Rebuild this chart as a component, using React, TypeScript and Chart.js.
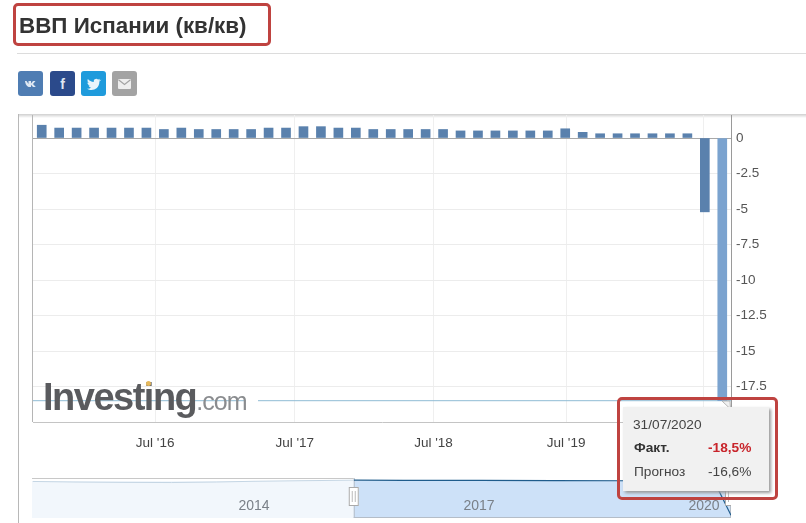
import React, { useEffect, useRef } from "react";
import { Chart, registerables } from "chart.js";

Chart.register(...registerables);

const FONT = '"Liberation Sans", Arial, sans-serif';

const TITLE = "ВВП Испании (кв/кв)";
const barValues = [
  0.9, 0.7, 0.7, 0.7, 0.7, 0.7, 0.7, 0.6, 0.7, 0.6, 0.6, 0.6, 0.6, 0.7, 0.7,
  0.8, 0.8, 0.7, 0.7, 0.6, 0.6, 0.6, 0.6, 0.6, 0.5, 0.5, 0.5, 0.5, 0.5, 0.5,
  0.65, 0.4, 0.3, 0.3, 0.3, 0.3, 0.3, 0.3, -5.2, -18.5,
];
const barPositions = barValues.map((_, i) => i);
const xTickPositions = [6.5, 14.5, 22.45, 30.05, 37.95];
const xTickLabels = ["Jul '16", "Jul '17", "Jul '18", "Jul '19", "Jul '20"];
const yTickValues = [0, -2.5, -5, -7.5, -10, -12.5, -15, -17.5];
const currentValue = -18.5;

const navYears = [2011.05, 2011.6, 2012.2, 2012.9, 2013.5, 2014, 2014.6, 2015.33, 2016, 2017, 2018, 2019, 2019.9, 2020.1, 2020.2, 2020.36];
const navValues = [0.1, -0.2, -0.4, -0.5, -0.2, 0.2, 0.5, 0.8, 0.7, 0.7, 0.6, 0.5, 0.3, 0.2, -5.2, -18.5];
const navTicks = [2014, 2017, 2020];
const navSelectionStart = 2015.33;

const tooltipDate = "31/07/2020";
const tooltipRows = [
  { label: "Факт.", value: "-18,5%" },
  { label: "Прогноз", value: "-16,6%" },
];

const abs = (l: number, t: number, w: number, h: number): React.CSSProperties => ({
  position: "absolute",
  left: l,
  top: t,
  width: w,
  height: h,
  boxSizing: "border-box",
});

export default function App() {
  const mainRef = useRef<HTMLCanvasElement>(null);
  const navRef = useRef<HTMLCanvasElement>(null);

  useEffect(() => {
    const framePlugin = {
      id: "frame",
      beforeDatasetsDraw(chart: any) {
        const { ctx, chartArea: a, scales } = chart;
        const y = scales.y.getPixelForValue(currentValue);
        ctx.save();
        ctx.strokeStyle = "#8fbcd4";
        ctx.lineWidth = 1;
        ctx.beginPath();
        ctx.moveTo(a.left, y);
        ctx.lineTo(a.right, y);
        ctx.stroke();
        ctx.strokeStyle = "#b5b5b5";
        ctx.beginPath();
        ctx.moveTo(a.left - 0.5, a.top);
        ctx.lineTo(a.left - 0.5, a.bottom);
        ctx.stroke();
        ctx.restore();
      },
    };

    const main = new Chart(mainRef.current!, {
      type: "bar",
      data: {
        datasets: [
          {
            data: barPositions.map((x, i) => ({ x, y: barValues[i] })),
            backgroundColor: barValues.map((_, i) =>
              i === barValues.length - 1 ? "#7ba3cf" : "#5a81ad"
            ),
            barThickness: 9,
          },
        ],
      },
      options: {
        animation: false,
        responsive: false,
        layout: { padding: { left: 33, top: 115, right: 0, bottom: 0 } },
        plugins: { legend: { display: false }, tooltip: { enabled: false } },
        scales: {
          x: {
            type: "linear",
            offset: false,
            min: -0.5,
            max: 39.5,
            afterBuildTicks: (s: any) => {
              s.ticks = xTickPositions.map((value) => ({ value }));
            },
            afterFit: (s: any) => {
              s.height = 101;
            },
            grid: { offset: false, color: "#efefef", drawTicks: false },
            border: { color: "#c4c4c4" },
            ticks: {
              autoSkip: false,
              maxRotation: 0,
              padding: 13,
              color: "#444",
              font: { family: FONT, size: 13.5 },
              callback: (_v: any, i: number) => xTickLabels[i],
            },
          },
          y: {
            position: "right",
            min: -20,
            max: 1.62,
            afterBuildTicks: (s: any) => {
              s.ticks = yTickValues.map((value) => ({ value }));
            },
            afterFit: (s: any) => {
              s.width = 75;
            },
            grid: {
              drawTicks: false,
              color: (c: any) => (c.tick && c.tick.value === 0 ? "#a8a8a8" : "#ececec"),
            },
            border: { color: "#9a9a9a" },
            ticks: {
              autoSkip: false,
              padding: 5,
              color: "#555",
              font: { family: FONT, size: 13.5 },
              callback: (v: any) => String(v),
            },
          },
        },
      },
      plugins: [framePlugin],
    } as any);

    const navPlugin = {
      id: "nav",
      beforeDatasetsDraw(chart: any) {
        const { ctx, chartArea: a, scales } = chart;
        const sx = scales.x.getPixelForValue(navSelectionStart);
        ctx.save();
        ctx.fillStyle = "#f2f7fc";
        ctx.fillRect(a.left, a.top + 3, sx - a.left, a.bottom - a.top - 3);
        ctx.fillStyle = "#cde1f8";
        ctx.fillRect(sx, a.top + 3, a.right - sx, a.bottom - a.top - 3);
        ctx.strokeStyle = "#c8c8c8";
        ctx.beginPath();
        ctx.moveTo(a.left, a.top + 0.5);
        ctx.lineTo(sx, a.top + 0.5);
        ctx.stroke();
        ctx.strokeStyle = "#b4bdc8";
        ctx.beginPath();
        ctx.moveTo(sx, a.bottom - 0.5);
        ctx.lineTo(a.right, a.bottom - 0.5);
        ctx.moveTo(sx + 0.5, a.top);
        ctx.lineTo(sx + 0.5, a.bottom);
        ctx.moveTo(a.right - 0.5, a.top);
        ctx.lineTo(a.right - 0.5, a.bottom);
        ctx.stroke();
        ctx.restore();
      },
      afterDraw(chart: any) {
        const { ctx, chartArea: a, scales } = chart;
        const sx = scales.x.getPixelForValue(navSelectionStart);
        ctx.save();
        ctx.fillStyle = "#7a8088";
        ctx.font = `14px ${FONT}`;
        ctx.textAlign = "center";
        ctx.textBaseline = "middle";
        scales.x.ticks.forEach((t: any) => {
          ctx.fillText(String(t.value), scales.x.getPixelForValue(t.value), a.top + 28);
        });
        [sx, a.right - 1].forEach((x: number) => {
          ctx.fillStyle = "#fff";
          ctx.strokeStyle = "#aaa";
          ctx.fillRect(x - 5, a.top + 9, 10, 19);
          ctx.strokeRect(x - 4.5, a.top + 9.5, 9, 18);
          ctx.strokeStyle = "#bbb";
          ctx.beginPath();
          ctx.moveTo(x - 1.5, a.top + 13);
          ctx.lineTo(x - 1.5, a.top + 24);
          ctx.moveTo(x + 1.5, a.top + 13);
          ctx.lineTo(x + 1.5, a.top + 24);
          ctx.stroke();
        });
        ctx.restore();
      },
    };

    const overviewIdx = navYears.findIndex((y) => y >= navSelectionStart);
    const nav = new Chart(navRef.current!, {
      type: "line",
      data: {
        datasets: [
          {
            data: navYears.slice(0, overviewIdx + 1).map((x, i) => ({ x, y: navValues[i] })),
            borderColor: "#c5d6e4",
            borderWidth: 1,
            pointRadius: 0,
          },
          {
            data: navYears.slice(overviewIdx).map((x, i) => ({ x, y: navValues[i + overviewIdx] })),
            borderColor: "#1f5c8c",
            borderWidth: 1.2,
            pointRadius: 0,
          },
        ],
      },
      options: {
        animation: false,
        responsive: false,
        layout: { padding: 0 },
        plugins: { legend: { display: false }, tooltip: { enabled: false } },
        scales: {
          x: {
            type: "linear",
            min: 2011.04,
            max: 2020.36,
            afterBuildTicks: (s: any) => {
              s.ticks = navTicks.map((value) => ({ value }));
            },
            afterFit: (s: any) => {
              s.height = 0;
            },
            grid: { display: false },
            border: { display: false },
            ticks: { display: false },
          },
          y: { display: false, min: -20, max: 2 },
        },
      },
      plugins: [navPlugin],
    } as any);

    return () => {
      main.destroy();
      nav.destroy();
    };
  }, []);

  const redBox = { border: "3px solid #bf4340", borderRadius: 5 };
  const icon: React.CSSProperties = { position: "absolute", left: 0, top: 0 };

  return (
    <div style={{ ...abs(0, 0, 806, 523), overflow: "hidden", background: "#fff", fontFamily: FONT }}>
      <div style={{ ...abs(18, 114, 788, 4), background: "linear-gradient(#cfcfcf, #fff)" }} />
      <div style={{ ...abs(18, 114, 1, 409), background: "#b8b8b8" }} />
      <canvas ref={mainRef} width={806} height={523} style={{ position: "absolute", left: 0, top: 0 }} />
      <canvas ref={navRef} width={699} height={40} style={{ position: "absolute", left: 32, top: 478 }} />

      {/* Title */}
      <div style={{ position: "absolute", left: 19, top: 13, fontSize: 22.4, fontWeight: 700, color: "#333", whiteSpace: "nowrap", lineHeight: "26px" }}>
        {TITLE}
      </div>
      <div style={{ ...abs(13, 3, 258, 43), ...redBox }} />
      <div style={{ ...abs(17, 53, 789, 1), background: "#dcdcdc" }} />

      {/* Share buttons */}
      <div style={{ ...abs(18, 71, 25, 25), background: "#4f7db3", borderRadius: 3 }}>
        <svg width={25} height={25} style={icon}>
          <path d="M6 10 h2.5 l2 3 v-3 h2.5 v2.5 l2-2.5 h2.5 l-2.5 3 2.8 3 h-2.8 l-2-2.3 v2.3 h-1.5 c-2.5 0-4-2.5-4.5-6z" fill="#dfe8f2" />
        </svg>
      </div>
      <div style={{ ...abs(50, 71, 25, 25), background: "#2b4a8b", borderRadius: 3, color: "#dfe6f2", textAlign: "center", lineHeight: "26px", fontSize: 14, fontWeight: 700 }}>f</div>
      <div style={{ ...abs(81, 71, 25, 25), background: "#1f9bdc", borderRadius: 3 }}>
        <svg width={25} height={25} style={icon}>
          <path d="M19 8.5 c-.6.3-1.200.4-1.800.5 .6-.4 1.100-1 1.300-1.700 -.6.4-1.300.6-2 .8 -1.300-1.400-3.700-.7-4.200 1.100 -.1.400-.1.800 0 1.300 -2.400-.1-4.500-1.300-5.900-3 -.8 1.400-.4 3 .9 3.900 -.5 0-1-.1-1.400-.4 0 1.500 1 2.700 2.500 3 -.5.100-1 .1-1.400 0 .4 1.200 1.500 2.100 2.800 2.100 -1.300 1-2.800 1.400-4.300 1.200 4.500 2.900 12.400 1 12.400-7.200 .9-.6 1.500-1.300 2-2.100z" fill="#e8f4fb" transform="translate(0.5 0.5)" />
        </svg>
      </div>
      <div style={{ ...abs(112, 71, 25, 25), background: "#a3a3a3", borderRadius: 3 }}>
        <svg width={25} height={25} style={icon}>
          <rect x={6} y={8} width={13} height={10} rx={1} fill="#eee" />
          <path d="M6.500 8.800 L12.500 13.500 L18.500 8.800" fill="none" stroke="#a3a3a3" strokeWidth={1.2} />
        </svg>
      </div>

      {/* Logo */}
      <div style={{ ...abs(246, 396, 12, 10), background: "#fff" }} />
      <div style={{ position: "absolute", left: 43, top: 374, whiteSpace: "nowrap", lineHeight: "46px" }}>
        <span style={{ fontSize: 38, fontWeight: 700, color: "#5a5b5e", letterSpacing: -1.5 }}>Investing</span>
        <span style={{ fontSize: 25, color: "#8a8c8f", letterSpacing: -1 }}>.com</span>
      </div>
      <div style={{ ...abs(146, 381, 5, 5), background: "#e6b95c", borderRadius: 3 }} />

      {/* Tooltip pointer */}
      <svg width={20} height={12} style={{ position: "absolute", left: 716, top: 398 }}>
        <path d="M6 3 L14 3 L14.500 11 Z" fill="#f1f1f1" stroke="#b5b5b5" strokeWidth={1} />
      </svg>

      {/* Tooltip */}
      <div style={{ ...abs(623, 407, 146, 84), background: "#f1f1f1", boxShadow: "2px 2px 3px #999", color: "#444", fontSize: 13.7 }}>
        <div style={{ position: "absolute", left: 10, top: 10 }}>{tooltipDate}</div>
        <div style={{ position: "absolute", left: 11, top: 33, fontWeight: 700, color: "#333" }}>{tooltipRows[0].label}</div>
        <div style={{ position: "absolute", left: 85, top: 33, fontWeight: 700, color: "#c8242b" }}>{tooltipRows[0].value}</div>
        <div style={{ position: "absolute", left: 11, top: 57 }}>{tooltipRows[1].label}</div>
        <div style={{ position: "absolute", left: 85, top: 57 }}>{tooltipRows[1].value}</div>
      </div>
      <div style={{ ...abs(617, 397, 161, 103), ...redBox }} />
    </div>
  );
}
